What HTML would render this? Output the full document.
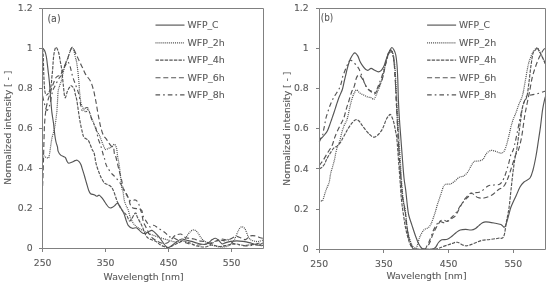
<!DOCTYPE html>
<html><head><meta charset="utf-8"><style>
html,body{margin:0;padding:0;background:#fff;}
svg{display:block;filter:blur(0.3px);}
text{font-family:"DejaVu Sans","Liberation Sans",sans-serif;font-size:9.3px;fill:#595959;stroke:#595959;stroke-width:0.1px;}
</style></head><body>
<svg width="550" height="285" viewBox="0 0 550 285">
<rect width="550" height="285" fill="#fff"/>
<clipPath id="ca"><rect x="42.1" y="7.699999999999999" width="221.50000000000003" height="241.5"/></clipPath>
<g clip-path="url(#ca)">
<path d="M42.60,96.00 C42.92,97.33 43.85,101.67 44.50,104.00 C45.15,106.33 45.90,109.12 46.50,110.00 C47.10,110.88 47.52,110.30 48.10,109.30 C48.68,108.30 49.43,106.22 50.00,104.00 C50.57,101.78 51.00,98.33 51.50,96.00 C52.00,93.67 52.42,91.67 53.00,90.00 C53.58,88.33 54.33,87.33 55.00,86.00 C55.67,84.67 56.30,83.33 57.00,82.00 C57.70,80.67 58.42,79.20 59.20,78.00 C59.98,76.80 60.90,76.47 61.70,74.80 C62.50,73.13 63.22,69.85 64.00,68.00 C64.78,66.15 65.73,64.70 66.40,63.70 C67.07,62.70 67.40,61.62 68.00,62.00 C68.60,62.38 69.25,63.67 70.00,66.00 C70.75,68.33 71.50,72.67 72.50,76.00 C73.50,79.33 74.92,82.83 76.00,86.00 C77.08,89.17 78.03,90.98 79.00,95.00 C79.97,99.02 80.73,107.93 81.80,110.10 C82.87,112.27 84.37,108.35 85.40,108.00 C86.43,107.65 87.22,106.95 88.00,108.00 C88.78,109.05 89.42,112.23 90.10,114.30 C90.78,116.37 91.42,118.72 92.10,120.40 C92.78,122.08 93.60,123.22 94.20,124.40 C94.80,125.58 95.20,125.88 95.70,127.50 C96.20,129.12 96.77,132.15 97.20,134.10 C97.63,136.05 97.78,137.50 98.30,139.20 C98.82,140.90 99.72,142.60 100.30,144.30 C100.88,146.00 101.30,147.62 101.80,149.40 C102.30,151.18 102.87,153.57 103.30,155.00 C103.73,156.43 103.97,156.48 104.40,158.00 C104.83,159.52 105.32,162.40 105.90,164.10 C106.48,165.80 106.97,166.67 107.90,168.20 C108.83,169.73 110.22,171.77 111.50,173.30 C112.78,174.83 114.07,175.62 115.60,177.40 C117.13,179.18 119.18,181.72 120.70,184.00 C122.22,186.28 123.52,188.90 124.70,191.10 C125.88,193.30 126.72,195.50 127.80,197.20 C128.88,198.90 130.03,200.87 131.20,201.30 C132.37,201.73 133.78,199.80 134.80,199.80 C135.82,199.80 136.62,200.53 137.30,201.30 C137.98,202.07 138.38,203.03 138.90,204.40 C139.42,205.77 139.72,207.57 140.40,209.50 C141.08,211.43 141.73,213.58 143.00,216.00 C144.27,218.42 146.73,222.12 148.00,224.00 C149.27,225.88 149.67,227.08 150.60,227.30 C151.53,227.52 152.42,225.22 153.60,225.30 C154.78,225.38 156.33,226.95 157.70,227.80 C159.07,228.65 160.43,229.47 161.80,230.40 C163.17,231.33 164.72,232.38 165.90,233.40 C167.08,234.42 167.72,235.82 168.90,236.50 C170.08,237.18 171.48,236.92 173.00,237.50 C174.52,238.08 176.17,239.25 178.00,240.00 C179.83,240.75 182.00,241.33 184.00,242.00 C186.00,242.67 187.83,243.50 190.00,244.00 C192.17,244.50 194.50,245.00 197.00,245.00 C199.50,245.00 202.87,244.18 205.00,244.00 C207.13,243.82 207.97,244.33 209.80,243.90 C211.63,243.47 214.30,242.05 216.00,241.40 C217.70,240.75 218.57,240.10 220.00,240.00 C221.43,239.90 223.43,240.97 224.60,240.80 C225.77,240.63 225.77,238.63 227.00,239.00 C228.23,239.37 229.83,242.00 232.00,243.00 C234.17,244.00 237.33,244.50 240.00,245.00 C242.67,245.50 245.33,246.17 248.00,246.00 C250.67,245.83 253.50,244.67 256.00,244.00 C258.50,243.33 261.83,242.33 263.00,242.00" fill="none" stroke="#555555" stroke-width="1.15" stroke-dasharray="4.6 3 1.7 3" stroke-linejoin="round"/>
<path d="M42.60,186.00 C42.70,183.33 43.03,175.17 43.20,170.00 C43.37,164.83 43.47,160.00 43.60,155.00 C43.73,150.00 43.85,145.00 44.00,140.00 C44.15,135.00 44.25,129.50 44.50,125.00 C44.75,120.50 45.18,116.05 45.50,113.00 C45.82,109.95 45.93,109.03 46.40,106.70 C46.87,104.37 47.65,101.28 48.30,99.00 C48.95,96.72 49.68,95.00 50.30,93.00 C50.92,91.00 51.42,88.75 52.00,87.00 C52.58,85.25 53.13,84.08 53.80,82.50 C54.47,80.92 55.30,78.58 56.00,77.50 C56.70,76.42 57.30,76.37 58.00,76.00 C58.70,75.63 59.53,75.97 60.20,75.30 C60.87,74.63 61.48,73.05 62.00,72.00 C62.52,70.95 62.67,70.50 63.30,69.00 C63.93,67.50 65.03,64.83 65.80,63.00 C66.57,61.17 67.10,60.17 67.90,58.00 C68.70,55.83 69.82,51.75 70.60,50.00 C71.38,48.25 71.70,46.83 72.60,47.50 C73.50,48.17 74.83,51.62 76.00,54.00 C77.17,56.38 78.50,59.50 79.60,61.80 C80.70,64.10 81.60,65.70 82.60,67.80 C83.60,69.90 84.30,72.20 85.60,74.40 C86.90,76.60 89.10,78.47 90.40,81.00 C91.70,83.53 92.60,86.77 93.40,89.60 C94.20,92.43 94.73,95.77 95.20,98.00 C95.67,100.23 95.78,100.63 96.20,103.00 C96.62,105.37 97.18,109.30 97.70,112.20 C98.22,115.10 98.78,117.85 99.30,120.40 C99.82,122.95 100.13,125.05 100.80,127.50 C101.47,129.95 102.37,133.15 103.30,135.10 C104.23,137.05 105.55,138.00 106.40,139.20 C107.25,140.40 107.55,141.12 108.40,142.30 C109.25,143.48 110.65,145.47 111.50,146.30 C112.35,147.13 113.00,145.93 113.50,147.30 C114.00,148.67 114.15,153.05 114.50,154.50 C114.85,155.95 115.08,154.40 115.60,156.00 C116.12,157.60 116.93,161.38 117.60,164.10 C118.27,166.82 118.92,169.58 119.60,172.30 C120.28,175.02 121.12,177.77 121.70,180.40 C122.28,183.03 122.53,186.15 123.10,188.10 C123.67,190.05 124.42,190.92 125.10,192.10 C125.78,193.28 126.52,193.83 127.20,195.20 C127.88,196.57 128.70,198.77 129.20,200.30 C129.70,201.83 129.57,203.12 130.20,204.40 C130.83,205.68 131.13,207.07 133.00,208.00 C134.87,208.93 139.83,208.48 141.40,210.00 C142.97,211.52 142.05,215.07 142.40,217.10 C142.75,219.13 142.98,220.67 143.50,222.20 C144.02,223.73 144.83,224.93 145.50,226.30 C146.17,227.67 146.78,228.95 147.50,230.40 C148.22,231.85 148.88,233.65 149.80,235.00 C150.72,236.35 151.97,237.58 153.00,238.50 C154.03,239.42 154.88,239.83 156.00,240.50 C157.12,241.17 158.53,242.00 159.70,242.50 C160.87,243.00 161.78,243.42 163.00,243.50 C164.22,243.58 165.72,243.58 167.00,243.00 C168.28,242.42 169.47,241.17 170.70,240.00 C171.93,238.83 173.37,236.88 174.40,236.00 C175.43,235.12 175.88,235.03 176.90,234.70 C177.92,234.37 179.48,233.90 180.50,234.00 C181.52,234.10 182.17,234.68 183.00,235.30 C183.83,235.92 184.48,237.20 185.50,237.70 C186.52,238.20 187.68,238.08 189.10,238.30 C190.52,238.52 192.35,238.58 194.00,239.00 C195.65,239.42 197.35,240.40 199.00,240.80 C200.65,241.20 202.07,241.03 203.90,241.40 C205.73,241.77 207.98,243.07 210.00,243.00 C212.02,242.93 214.00,241.67 216.00,241.00 C218.00,240.33 220.00,239.17 222.00,239.00 C224.00,238.83 225.73,240.42 228.00,240.00 C230.27,239.58 233.52,236.88 235.60,236.50 C237.68,236.12 238.85,237.18 240.50,237.70 C242.15,238.22 243.85,239.90 245.50,239.60 C247.15,239.30 248.77,236.52 250.40,235.90 C252.03,235.28 253.67,235.60 255.30,235.90 C256.93,236.20 258.92,237.30 260.20,237.70 C261.48,238.10 262.53,238.20 263.00,238.30" fill="none" stroke="#555555" stroke-width="1.15" stroke-dasharray="5 2.8" stroke-linejoin="round"/>
<path d="M42.60,49.00 C42.70,50.00 43.05,52.33 43.20,55.00 C43.35,57.67 43.40,61.67 43.50,65.00 C43.60,68.33 43.67,71.67 43.80,75.00 C43.93,78.33 44.10,82.17 44.30,85.00 C44.50,87.83 44.63,90.33 45.00,92.00 C45.37,93.67 45.92,94.83 46.50,95.00 C47.08,95.17 47.87,94.00 48.50,93.00 C49.13,92.00 49.83,90.50 50.30,89.00 C50.77,87.50 51.05,85.83 51.30,84.00 C51.55,82.17 51.58,80.33 51.80,78.00 C52.02,75.67 52.27,73.83 52.60,70.00 C52.93,66.17 53.25,58.78 53.80,55.00 C54.35,51.22 55.10,47.72 55.90,47.30 C56.70,46.88 57.88,50.22 58.60,52.50 C59.32,54.78 59.68,58.18 60.20,61.00 C60.72,63.82 61.18,65.40 61.70,69.40 C62.22,73.40 62.75,80.28 63.30,85.00 C63.85,89.72 64.30,96.70 65.00,97.70 C65.70,98.70 66.67,92.83 67.50,91.00 C68.33,89.17 69.30,87.55 70.00,86.70 C70.70,85.85 71.00,85.47 71.70,85.90 C72.40,86.33 73.57,87.75 74.20,89.30 C74.83,90.85 75.07,93.38 75.50,95.20 C75.93,97.02 76.32,97.57 76.80,100.20 C77.28,102.83 77.85,107.38 78.40,111.00 C78.95,114.62 79.40,118.18 80.10,121.90 C80.80,125.62 81.95,130.75 82.60,133.30 C83.25,135.85 83.08,136.05 84.00,137.20 C84.92,138.35 87.08,139.02 88.10,140.20 C89.12,141.38 89.43,142.77 90.10,144.30 C90.77,145.83 91.42,147.87 92.10,149.40 C92.78,150.93 93.52,151.05 94.20,153.50 C94.88,155.95 95.35,160.80 96.20,164.10 C97.05,167.40 98.37,170.83 99.30,173.30 C100.23,175.77 100.95,177.28 101.80,178.90 C102.65,180.52 103.47,182.07 104.40,183.00 C105.33,183.93 106.22,183.82 107.40,184.50 C108.58,185.18 110.40,185.83 111.50,187.10 C112.60,188.37 113.23,190.23 114.00,192.10 C114.77,193.97 115.50,196.60 116.10,198.30 C116.70,200.00 116.83,200.62 117.60,202.30 C118.37,203.98 119.77,206.87 120.70,208.40 C121.63,209.93 122.15,210.23 123.20,211.50 C124.25,212.77 125.87,214.42 127.00,216.00 C128.13,217.58 128.62,221.48 130.00,221.00 C131.38,220.52 134.08,213.75 135.30,213.10 C136.52,212.45 136.18,214.95 137.30,217.10 C138.42,219.25 140.53,222.87 142.00,226.00 C143.47,229.13 144.80,233.73 146.10,235.90 C147.40,238.07 148.15,238.08 149.80,239.00 C151.45,239.92 154.35,240.48 156.00,241.40 C157.65,242.32 158.37,243.65 159.70,244.50 C161.03,245.35 162.62,246.00 164.00,246.50 C165.38,247.00 166.67,247.58 168.00,247.50 C169.33,247.42 170.33,246.75 172.00,246.00 C173.67,245.25 176.00,243.83 178.00,243.00 C180.00,242.17 182.00,241.00 184.00,241.00 C186.00,241.00 187.83,242.17 190.00,243.00 C192.17,243.83 194.50,245.33 197.00,246.00 C199.50,246.67 202.50,247.17 205.00,247.00 C207.50,246.83 209.50,245.08 212.00,245.00 C214.50,244.92 217.33,246.50 220.00,246.50 C222.67,246.50 225.33,245.42 228.00,245.00 C230.67,244.58 233.33,243.92 236.00,244.00 C238.67,244.08 241.33,245.42 244.00,245.50 C246.67,245.58 249.67,244.58 252.00,244.50 C254.33,244.42 256.17,245.25 258.00,245.00 C259.83,244.75 262.17,243.33 263.00,243.00" fill="none" stroke="#555555" stroke-width="1.15" stroke-dasharray="3.4 1.2" stroke-linejoin="round"/>
<path d="M42.60,154.00 C42.95,154.47 44.07,156.25 44.70,156.80 C45.33,157.35 45.77,157.08 46.40,157.30 C47.03,157.52 48.00,158.53 48.50,158.10 C49.00,157.67 49.05,156.60 49.40,154.70 C49.75,152.80 50.18,149.43 50.60,146.70 C51.02,143.97 51.33,140.97 51.90,138.30 C52.47,135.63 53.43,133.08 54.00,130.70 C54.57,128.32 54.83,127.12 55.30,124.00 C55.77,120.88 56.45,115.40 56.80,112.00 C57.15,108.60 57.17,107.10 57.40,103.60 C57.63,100.10 57.78,94.10 58.20,91.00 C58.62,87.90 59.33,86.83 59.90,85.00 C60.47,83.17 61.03,82.17 61.60,80.00 C62.17,77.83 62.60,74.83 63.30,72.00 C64.00,69.17 65.03,65.33 65.80,63.00 C66.57,60.67 67.10,60.17 67.90,58.00 C68.70,55.83 69.85,51.77 70.60,50.00 C71.35,48.23 71.83,47.23 72.40,47.40 C72.97,47.57 73.50,49.30 74.00,51.00 C74.50,52.70 75.02,56.02 75.40,57.60 C75.78,59.18 75.93,58.60 76.30,60.50 C76.67,62.40 77.17,65.42 77.60,69.00 C78.03,72.58 78.57,78.17 78.90,82.00 C79.23,85.83 79.25,88.50 79.60,92.00 C79.95,95.50 80.30,100.07 81.00,103.00 C81.70,105.93 82.97,108.10 83.80,109.60 C84.63,111.10 85.28,112.07 86.00,112.00 C86.72,111.93 87.33,108.65 88.10,109.20 C88.87,109.75 89.62,112.83 90.60,115.30 C91.58,117.77 93.07,121.55 94.00,124.00 C94.93,126.45 95.32,128.15 96.20,130.00 C97.08,131.85 98.45,133.40 99.30,135.10 C100.15,136.80 100.63,138.50 101.30,140.20 C101.97,141.90 102.62,143.77 103.30,145.30 C103.98,146.83 104.72,148.80 105.40,149.40 C106.08,150.00 106.72,149.15 107.40,148.90 C108.08,148.65 108.73,148.25 109.50,147.90 C110.27,147.55 111.17,147.40 112.00,146.80 C112.83,146.20 113.73,144.03 114.50,144.30 C115.27,144.57 116.08,146.45 116.60,148.40 C117.12,150.35 117.10,152.73 117.60,156.00 C118.10,159.27 118.92,162.83 119.60,168.00 C120.28,173.17 121.12,182.98 121.70,187.00 C122.28,191.02 122.70,190.05 123.10,192.10 C123.50,194.15 123.68,197.25 124.10,199.30 C124.52,201.35 124.92,202.62 125.60,204.40 C126.28,206.18 127.43,207.88 128.20,210.00 C128.97,212.12 129.35,214.90 130.20,217.10 C131.05,219.30 132.28,221.67 133.30,223.20 C134.32,224.73 134.85,225.17 136.30,226.30 C137.75,227.43 139.72,228.72 142.00,230.00 C144.28,231.28 147.33,232.83 150.00,234.00 C152.67,235.17 155.00,236.00 158.00,237.00 C161.00,238.00 165.00,239.17 168.00,240.00 C171.00,240.83 173.83,241.83 176.00,242.00 C178.17,242.17 179.50,241.58 181.00,241.00 C182.50,240.42 183.83,239.58 185.00,238.50 C186.17,237.42 187.08,235.67 188.00,234.50 C188.92,233.33 189.67,232.25 190.50,231.50 C191.33,230.75 192.17,230.17 193.00,230.00 C193.83,229.83 194.67,230.00 195.50,230.50 C196.33,231.00 197.17,231.92 198.00,233.00 C198.83,234.08 199.67,235.83 200.50,237.00 C201.33,238.17 202.08,239.17 203.00,240.00 C203.92,240.83 204.50,241.17 206.00,242.00 C207.50,242.83 209.67,244.17 212.00,245.00 C214.33,245.83 217.33,246.83 220.00,247.00 C222.67,247.17 225.80,246.93 228.00,246.00 C230.20,245.07 231.93,242.88 233.20,241.40 C234.47,239.92 234.78,238.83 235.60,237.10 C236.42,235.37 237.37,232.52 238.10,231.00 C238.83,229.48 239.38,228.72 240.00,228.00 C240.62,227.28 241.20,226.78 241.80,226.70 C242.40,226.62 242.98,227.00 243.60,227.50 C244.22,228.00 244.78,228.30 245.50,229.70 C246.22,231.10 247.08,234.25 247.90,235.90 C248.72,237.55 249.38,238.75 250.40,239.60 C251.42,240.45 252.73,240.68 254.00,241.00 C255.27,241.32 256.50,241.67 258.00,241.50 C259.50,241.33 262.17,240.25 263.00,240.00" fill="none" stroke="#505050" stroke-width="1.2" stroke-dasharray="1.0 0.95" stroke-linejoin="round"/>
<path d="M42.60,48.00 C42.97,48.50 44.17,49.50 44.80,51.00 C45.43,52.50 45.85,53.73 46.40,57.00 C46.95,60.27 47.60,66.43 48.10,70.60 C48.60,74.77 49.02,77.93 49.40,82.00 C49.78,86.07 50.10,91.17 50.40,95.00 C50.70,98.83 50.95,102.07 51.20,105.00 C51.45,107.93 51.50,109.43 51.90,112.60 C52.30,115.77 53.12,120.27 53.60,124.00 C54.08,127.73 54.40,132.00 54.80,135.00 C55.20,138.00 55.57,140.05 56.00,142.00 C56.43,143.95 57.03,145.13 57.40,146.70 C57.77,148.27 57.65,149.98 58.20,151.40 C58.75,152.82 59.85,154.37 60.70,155.20 C61.55,156.03 62.52,155.98 63.30,156.40 C64.08,156.82 64.77,156.85 65.40,157.70 C66.03,158.55 66.55,160.58 67.10,161.50 C67.65,162.42 67.93,163.07 68.70,163.20 C69.47,163.33 70.63,162.73 71.70,162.30 C72.77,161.87 74.18,160.95 75.10,160.60 C76.02,160.25 76.50,159.98 77.20,160.20 C77.90,160.42 78.67,161.13 79.30,161.90 C79.93,162.67 80.45,163.47 81.00,164.80 C81.55,166.13 82.02,168.03 82.60,169.90 C83.18,171.77 83.85,173.82 84.50,176.00 C85.15,178.18 85.82,180.65 86.50,183.00 C87.18,185.35 87.92,188.32 88.60,190.10 C89.28,191.88 89.67,192.93 90.60,193.70 C91.53,194.47 93.18,194.28 94.20,194.70 C95.22,195.12 95.85,196.12 96.70,196.20 C97.55,196.28 98.45,194.95 99.30,195.20 C100.15,195.45 100.95,196.68 101.80,197.70 C102.65,198.72 103.63,200.18 104.40,201.30 C105.17,202.42 105.65,203.38 106.40,204.40 C107.15,205.42 108.13,206.82 108.90,207.40 C109.67,207.98 110.07,208.15 111.00,207.90 C111.93,207.65 113.48,206.67 114.50,205.90 C115.52,205.13 116.42,203.55 117.10,203.30 C117.78,203.05 117.83,203.37 118.60,204.40 C119.37,205.43 120.78,207.88 121.70,209.50 C122.62,211.12 123.37,212.32 124.10,214.10 C124.83,215.88 125.42,218.33 126.10,220.20 C126.78,222.07 127.17,223.95 128.20,225.30 C129.23,226.65 130.95,227.88 132.30,228.30 C133.65,228.72 135.12,227.45 136.30,227.80 C137.48,228.15 138.38,229.55 139.40,230.40 C140.42,231.25 141.38,232.40 142.40,232.90 C143.42,233.40 144.48,233.57 145.50,233.40 C146.52,233.23 147.48,232.40 148.50,231.90 C149.52,231.40 150.75,230.48 151.60,230.40 C152.45,230.32 152.75,230.73 153.60,231.40 C154.45,232.07 155.67,233.30 156.70,234.40 C157.73,235.50 158.75,236.65 159.80,238.00 C160.85,239.35 161.97,241.08 163.00,242.50 C164.03,243.92 165.12,245.65 166.00,246.50 C166.88,247.35 167.30,247.77 168.30,247.60 C169.30,247.43 170.55,246.53 172.00,245.50 C173.45,244.47 175.37,242.48 177.00,241.40 C178.63,240.32 180.18,239.20 181.80,239.00 C183.42,238.80 185.07,239.80 186.70,240.20 C188.33,240.60 189.77,240.88 191.60,241.40 C193.43,241.92 195.48,242.78 197.70,243.30 C199.92,243.82 203.08,244.62 204.90,244.50 C206.72,244.38 207.37,243.42 208.60,242.60 C209.83,241.78 211.17,240.32 212.30,239.60 C213.43,238.88 214.38,238.20 215.40,238.30 C216.42,238.40 217.28,239.27 218.40,240.20 C219.52,241.13 220.87,243.50 222.10,243.90 C223.33,244.30 224.37,243.02 225.80,242.60 C227.23,242.18 228.85,241.70 230.70,241.40 C232.55,241.10 234.85,240.80 236.90,240.80 C238.95,240.80 240.97,241.10 243.00,241.40 C245.03,241.70 247.05,242.08 249.10,242.60 C251.15,243.12 253.25,243.98 255.30,244.50 C257.35,245.02 260.12,245.62 261.40,245.70 C262.68,245.78 262.73,245.12 263.00,245.00" fill="none" stroke="#555555" stroke-width="1.15" stroke-linejoin="round"/>
</g>
<path d="M42.5,8.5 H263.5 V248.5 M42.5,8.5 V248.5 H263.5" fill="none" stroke="#808080" stroke-width="1"/>
<path d="M39.0,248.5 H42.5" stroke="#808080" stroke-width="1"/>
<path d="M39.0,208.5 H42.5" stroke="#808080" stroke-width="1"/>
<path d="M39.0,168.5 H42.5" stroke="#808080" stroke-width="1"/>
<path d="M39.0,128.5 H42.5" stroke="#808080" stroke-width="1"/>
<path d="M39.0,88.5 H42.5" stroke="#808080" stroke-width="1"/>
<path d="M39.0,48.5 H42.5" stroke="#808080" stroke-width="1"/>
<path d="M39.0,8.5 H42.5" stroke="#808080" stroke-width="1"/>
<path d="M42.5,248.5 V252.0" stroke="#808080" stroke-width="1"/>
<path d="M105.5,248.5 V252.0" stroke="#808080" stroke-width="1"/>
<path d="M168.5,248.5 V252.0" stroke="#808080" stroke-width="1"/>
<path d="M231.5,248.5 V252.0" stroke="#808080" stroke-width="1"/>
<text x="32.6" y="250.90" text-anchor="end">0</text>
<text x="32.6" y="210.90" text-anchor="end">0.2</text>
<text x="32.6" y="170.90" text-anchor="end">0.4</text>
<text x="32.6" y="130.90" text-anchor="end">0.6</text>
<text x="32.6" y="90.90" text-anchor="end">0.8</text>
<text x="32.6" y="50.90" text-anchor="end">1</text>
<text x="32.6" y="10.90" text-anchor="end">1.2</text>
<text x="42.60" y="265.9" text-anchor="middle">250</text>
<text x="105.60" y="265.9" text-anchor="middle">350</text>
<text x="168.60" y="265.9" text-anchor="middle">450</text>
<text x="231.60" y="265.9" text-anchor="middle">550</text>
<text x="47.4" y="21.6" text-anchor="start" textLength="13.2" lengthAdjust="spacingAndGlyphs" style="font-size:10.6px">(a)</text>
<text transform="translate(11.2,127.7) rotate(-90)" x="0" y="0" text-anchor="middle" textLength="114" lengthAdjust="spacingAndGlyphs">Normalized intensity [ - ]</text>
<text x="103.6" y="279.6" text-anchor="start" textLength="80" lengthAdjust="spacingAndGlyphs">Wavelength [nm]</text>
<path d="M155.5,25.1 H184.5" stroke="#555555" stroke-width="1.15"/>
<text x="187.5" y="28.4" text-anchor="start" textLength="31" lengthAdjust="spacingAndGlyphs">WFP_C</text>
<path d="M155.5,42.9 H184.5" stroke="#505050" stroke-width="1.2" stroke-dasharray="1.0 0.95"/>
<text x="187.5" y="46.2" text-anchor="start" textLength="37.3" lengthAdjust="spacingAndGlyphs">WFP_2h</text>
<path d="M155.5,60.1 H184.5" stroke="#555555" stroke-width="1.15" stroke-dasharray="3.4 1.2"/>
<text x="187.5" y="63.4" text-anchor="start" textLength="37.3" lengthAdjust="spacingAndGlyphs">WFP_4h</text>
<path d="M155.5,77.7 H184.5" stroke="#555555" stroke-width="1.15" stroke-dasharray="5 2.8"/>
<text x="187.5" y="81.0" text-anchor="start" textLength="37.3" lengthAdjust="spacingAndGlyphs">WFP_6h</text>
<path d="M155.5,94.9 H184.5" stroke="#555555" stroke-width="1.15" stroke-dasharray="4.6 3 1.7 3"/>
<text x="187.5" y="98.2" text-anchor="start" textLength="37.3" lengthAdjust="spacingAndGlyphs">WFP_8h</text>
<clipPath id="cb"><rect x="318.7" y="7.699999999999999" width="227.50000000000006" height="242.5"/></clipPath>
<g clip-path="url(#cb)">
<path d="M319.20,142.00 C319.50,141.42 320.43,139.58 321.00,138.50 C321.57,137.42 322.20,136.75 322.60,135.50 C323.00,134.25 323.03,132.85 323.40,131.00 C323.77,129.15 324.42,126.40 324.80,124.40 C325.18,122.40 325.22,121.00 325.70,119.00 C326.18,117.00 327.03,114.52 327.70,112.40 C328.37,110.28 328.93,108.33 329.70,106.30 C330.47,104.27 331.45,101.98 332.30,100.20 C333.15,98.42 333.87,97.13 334.80,95.60 C335.73,94.07 337.03,92.43 337.90,91.00 C338.77,89.57 339.40,88.50 340.00,87.00 C340.60,85.50 341.07,83.67 341.50,82.00 C341.93,80.33 342.07,78.78 342.60,77.00 C343.13,75.22 343.93,73.27 344.70,71.30 C345.47,69.33 346.45,66.88 347.20,65.20 C347.95,63.52 348.57,62.02 349.20,61.20 C349.83,60.38 350.32,60.13 351.00,60.30 C351.68,60.47 352.40,61.38 353.30,62.20 C354.20,63.02 355.47,64.10 356.40,65.20 C357.33,66.30 358.15,67.43 358.90,68.80 C359.65,70.17 360.30,71.95 360.90,73.40 C361.50,74.85 361.73,75.47 362.50,77.50 C363.27,79.53 364.48,83.57 365.50,85.60 C366.52,87.63 367.58,88.77 368.60,89.70 C369.62,90.63 370.75,90.65 371.60,91.20 C372.45,91.75 372.93,93.03 373.70,93.00 C374.47,92.97 375.32,92.50 376.20,91.00 C377.08,89.50 378.03,86.50 379.00,84.00 C379.97,81.50 381.00,79.00 382.00,76.00 C383.00,73.00 383.90,69.67 385.00,66.00 C386.10,62.33 387.77,56.33 388.60,54.00 C389.43,51.67 389.52,52.25 390.00,52.00 C390.48,51.75 391.00,51.83 391.50,52.50 C392.00,53.17 392.53,53.92 393.00,56.00 C393.47,58.08 393.92,61.00 394.30,65.00 C394.68,69.00 394.98,74.17 395.30,80.00 C395.62,85.83 395.88,93.33 396.20,100.00 C396.52,106.67 396.85,113.33 397.20,120.00 C397.55,126.67 397.92,133.33 398.30,140.00 C398.68,146.67 399.05,153.33 399.50,160.00 C399.95,166.67 400.48,173.67 401.00,180.00 C401.52,186.33 401.93,192.67 402.60,198.00 C403.27,203.33 404.27,207.00 405.00,212.00 C405.73,217.00 406.25,223.33 407.00,228.00 C407.75,232.67 408.67,236.92 409.50,240.00 C410.33,243.08 411.17,245.00 412.00,246.50 C412.83,248.00 413.50,248.55 414.50,249.00 C415.50,249.45 416.75,249.17 418.00,249.20 C419.25,249.23 420.73,249.40 422.00,249.20 C423.27,249.00 424.30,249.53 425.60,248.00 C426.90,246.47 428.55,242.83 429.80,240.00 C431.05,237.17 432.00,233.50 433.10,231.00 C434.20,228.50 435.37,226.62 436.40,225.00 C437.43,223.38 437.90,221.68 439.30,221.30 C440.70,220.92 442.98,223.15 444.80,222.70 C446.62,222.25 448.38,220.20 450.20,218.60 C452.02,217.00 453.92,215.37 455.70,213.10 C457.48,210.83 459.22,207.32 460.90,205.00 C462.58,202.68 464.62,200.53 465.80,199.20 C466.98,197.87 466.97,198.03 468.00,197.00 C469.03,195.97 470.00,193.83 472.00,193.00 C474.00,192.17 477.33,193.17 480.00,192.00 C482.67,190.83 485.67,187.17 488.00,186.00 C490.33,184.83 492.00,185.33 494.00,185.00 C496.00,184.67 498.33,185.17 500.00,184.00 C501.67,182.83 502.67,181.00 504.00,178.00 C505.33,175.00 506.83,170.00 508.00,166.00 C509.17,162.00 510.13,156.67 511.00,154.00 C511.87,151.33 512.32,152.82 513.20,150.00 C514.08,147.18 515.08,142.77 516.30,137.10 C517.52,131.43 519.27,121.62 520.50,116.00 C521.73,110.38 522.65,106.73 523.70,103.40 C524.75,100.07 525.58,97.40 526.80,96.00 C528.02,94.60 529.42,95.33 531.00,95.00 C532.58,94.67 534.37,94.50 536.30,94.00 C538.23,93.50 541.03,92.50 542.60,92.00 C544.17,91.50 545.18,91.17 545.70,91.00" fill="none" stroke="#555555" stroke-width="1.15" stroke-dasharray="4.6 3 1.7 3" stroke-linejoin="round"/>
<path d="M319.20,165.50 C319.53,165.08 320.50,163.93 321.20,163.00 C321.90,162.07 322.30,161.65 323.40,159.90 C324.50,158.15 326.33,154.95 327.80,152.50 C329.27,150.05 331.10,147.55 332.20,145.20 C333.30,142.85 333.53,140.77 334.40,138.40 C335.27,136.03 336.17,133.70 337.40,131.00 C338.63,128.30 340.70,124.45 341.80,122.20 C342.90,119.95 343.22,119.82 344.00,117.50 C344.78,115.18 345.65,111.18 346.50,108.30 C347.35,105.42 348.25,102.92 349.10,100.20 C349.95,97.48 350.73,94.35 351.60,92.00 C352.47,89.65 353.50,88.43 354.30,86.10 C355.10,83.77 355.70,79.85 356.40,78.00 C357.10,76.15 357.82,75.33 358.50,75.00 C359.18,74.67 359.75,75.17 360.50,76.00 C361.25,76.83 362.08,78.33 363.00,80.00 C363.92,81.67 365.00,84.33 366.00,86.00 C367.00,87.67 368.00,88.92 369.00,90.00 C370.00,91.08 371.08,91.83 372.00,92.50 C372.92,93.17 373.72,94.22 374.50,94.00 C375.28,93.78 375.98,92.33 376.70,91.20 C377.42,90.07 378.12,88.72 378.80,87.20 C379.48,85.68 380.22,83.47 380.80,82.10 C381.38,80.73 381.77,80.68 382.30,79.00 C382.83,77.32 383.38,74.83 384.00,72.00 C384.62,69.17 385.33,65.00 386.00,62.00 C386.67,59.00 387.42,55.83 388.00,54.00 C388.58,52.17 389.00,51.58 389.50,51.00 C390.00,50.42 390.50,50.17 391.00,50.50 C391.50,50.83 392.03,51.42 392.50,53.00 C392.97,54.58 393.38,56.33 393.80,60.00 C394.22,63.67 394.63,69.17 395.00,75.00 C395.37,80.83 395.67,88.33 396.00,95.00 C396.33,101.67 396.67,108.33 397.00,115.00 C397.33,121.67 397.58,127.50 398.00,135.00 C398.42,142.50 399.00,152.50 399.50,160.00 C400.00,167.50 400.47,173.67 401.00,180.00 C401.53,186.33 402.03,193.00 402.70,198.00 C403.37,203.00 404.28,205.07 405.00,210.00 C405.72,214.93 406.27,222.55 407.00,227.60 C407.73,232.65 408.58,237.13 409.40,240.30 C410.22,243.47 411.07,245.18 411.90,246.60 C412.73,248.02 413.38,248.37 414.40,248.80 C415.42,249.23 416.40,249.13 418.00,249.20 C419.60,249.27 422.50,249.57 424.00,249.20 C425.50,248.83 426.03,248.12 427.00,247.00 C427.97,245.88 428.78,244.70 429.80,242.50 C430.82,240.30 432.00,236.33 433.10,233.80 C434.20,231.27 435.50,228.93 436.40,227.30 C437.30,225.67 437.78,225.10 438.50,224.00 C439.22,222.90 439.78,221.33 440.70,220.70 C441.62,220.07 442.90,220.10 444.00,220.20 C445.10,220.30 446.03,221.58 447.30,221.30 C448.57,221.02 450.33,219.32 451.60,218.50 C452.87,217.68 453.98,217.32 454.90,216.40 C455.82,215.48 456.20,214.60 457.10,213.00 C458.00,211.40 459.03,209.10 460.30,206.80 C461.57,204.50 463.23,201.28 464.70,199.20 C466.17,197.12 468.00,195.30 469.10,194.30 C470.20,193.30 470.40,193.12 471.30,193.20 C472.20,193.28 473.42,194.08 474.50,194.80 C475.58,195.52 476.22,196.97 477.80,197.50 C479.38,198.03 481.63,198.42 484.00,198.00 C486.37,197.58 489.67,196.33 492.00,195.00 C494.33,193.67 496.00,191.50 498.00,190.00 C500.00,188.50 502.33,188.00 504.00,186.00 C505.67,184.00 506.67,181.33 508.00,178.00 C509.33,174.67 510.67,170.00 512.00,166.00 C513.33,162.00 514.93,156.67 516.00,154.00 C517.07,151.33 517.47,152.82 518.40,150.00 C519.33,147.18 520.55,142.77 521.60,137.10 C522.65,131.43 523.80,121.52 524.70,116.00 C525.60,110.48 526.20,108.00 527.00,104.00 C527.80,100.00 528.65,96.33 529.50,92.00 C530.35,87.67 531.13,82.10 532.10,78.00 C533.07,73.90 534.07,70.93 535.30,67.40 C536.53,63.87 538.10,59.78 539.50,56.80 C540.90,53.82 542.67,50.88 543.70,49.50 C544.73,48.12 545.37,48.67 545.70,48.50" fill="none" stroke="#555555" stroke-width="1.15" stroke-dasharray="5 2.8" stroke-linejoin="round"/>
<path d="M319.20,168.80 C319.65,168.57 320.97,168.25 321.90,167.40 C322.83,166.55 324.07,164.93 324.80,163.70 C325.53,162.47 325.55,161.50 326.30,160.00 C327.05,158.50 328.07,156.68 329.30,154.70 C330.53,152.72 332.35,149.57 333.70,148.10 C335.05,146.63 336.17,147.00 337.40,145.90 C338.63,144.80 340.30,142.62 341.10,141.50 C341.90,140.38 341.47,140.57 342.20,139.20 C342.93,137.83 344.47,135.15 345.50,133.30 C346.53,131.45 347.30,129.83 348.40,128.10 C349.50,126.37 350.88,124.30 352.10,122.90 C353.32,121.50 354.55,120.02 355.70,119.70 C356.85,119.38 357.85,119.95 359.00,121.00 C360.15,122.05 360.87,123.80 362.60,126.00 C364.33,128.20 367.35,132.37 369.40,134.20 C371.45,136.03 372.83,137.68 374.90,137.00 C376.97,136.32 379.95,132.93 381.80,130.10 C383.65,127.27 384.87,122.35 386.00,120.00 C387.13,117.65 387.83,116.88 388.60,116.00 C389.37,115.12 389.80,113.87 390.60,114.70 C391.40,115.53 392.58,118.30 393.40,121.00 C394.22,123.70 394.92,127.85 395.50,130.90 C396.08,133.95 396.40,134.45 396.90,139.30 C397.40,144.15 397.98,153.22 398.50,160.00 C399.02,166.78 399.50,173.33 400.00,180.00 C400.50,186.67 400.92,194.17 401.50,200.00 C402.08,205.83 402.83,210.40 403.50,215.00 C404.17,219.60 404.75,223.77 405.50,227.60 C406.25,231.43 407.17,235.10 408.00,238.00 C408.83,240.90 409.67,243.25 410.50,245.00 C411.33,246.75 412.08,247.80 413.00,248.50 C413.92,249.20 412.25,249.12 416.00,249.20 C419.75,249.28 430.90,249.47 435.50,249.00 C440.10,248.53 440.88,247.30 443.60,246.40 C446.32,245.50 449.52,244.28 451.80,243.60 C454.08,242.92 455.02,241.93 457.30,242.30 C459.58,242.67 462.78,245.58 465.50,245.80 C468.22,246.02 470.88,244.50 473.60,243.60 C476.32,242.70 479.07,241.08 481.80,240.40 C484.53,239.72 487.27,239.87 490.00,239.50 C492.73,239.13 495.93,238.65 498.20,238.20 C500.47,237.75 502.23,239.53 503.60,236.80 C504.97,234.07 505.50,226.60 506.40,221.80 C507.30,217.00 508.23,213.30 509.00,208.00 C509.77,202.70 510.33,196.00 511.00,190.00 C511.67,184.00 512.33,177.33 513.00,172.00 C513.67,166.67 514.33,162.00 515.00,158.00 C515.67,154.00 516.17,153.50 517.00,148.00 C517.83,142.50 519.00,132.17 520.00,125.00 C521.00,117.83 521.87,109.70 523.00,105.00 C524.13,100.30 525.80,100.63 526.80,96.80 C527.80,92.97 528.30,87.25 529.00,82.00 C529.70,76.75 530.30,70.20 531.00,65.30 C531.70,60.40 532.43,55.15 533.20,52.60 C533.97,50.05 534.97,50.80 535.60,50.00 C536.23,49.20 536.40,47.63 537.00,47.80 C537.60,47.97 538.37,49.57 539.20,51.00 C540.03,52.43 540.93,54.13 542.00,56.40 C543.07,58.67 545.00,63.23 545.60,64.60" fill="none" stroke="#555555" stroke-width="1.15" stroke-dasharray="3.4 1.2" stroke-linejoin="round"/>
<path d="M319.20,199.50 C319.72,199.75 321.52,201.45 322.30,201.00 C323.08,200.55 323.37,198.37 323.90,196.80 C324.43,195.23 324.88,193.35 325.50,191.60 C326.12,189.85 326.98,187.88 327.60,186.30 C328.22,184.72 328.68,184.27 329.20,182.10 C329.72,179.93 330.20,175.63 330.70,173.30 C331.20,170.97 331.58,170.32 332.20,168.10 C332.82,165.88 333.78,162.60 334.40,160.00 C335.02,157.40 335.40,154.73 335.90,152.50 C336.40,150.27 336.78,148.43 337.40,146.60 C338.02,144.77 338.87,143.85 339.60,141.50 C340.33,139.15 341.07,135.10 341.80,132.50 C342.53,129.90 343.27,127.73 344.00,125.90 C344.73,124.07 345.60,122.90 346.20,121.50 C346.80,120.10 347.03,119.70 347.60,117.50 C348.17,115.30 348.93,111.18 349.60,108.30 C350.27,105.42 350.83,102.73 351.60,100.20 C352.37,97.67 353.35,94.80 354.20,93.10 C355.05,91.40 355.77,90.00 356.70,90.00 C357.63,90.00 358.60,92.25 359.80,93.10 C361.00,93.95 362.55,94.43 363.90,95.10 C365.25,95.77 366.72,96.68 367.90,97.10 C369.08,97.52 370.03,97.22 371.00,97.60 C371.97,97.98 372.92,99.62 373.70,99.40 C374.48,99.18 375.02,97.67 375.70,96.30 C376.38,94.93 377.12,92.90 377.80,91.20 C378.48,89.50 379.13,87.97 379.80,86.10 C380.47,84.23 381.10,82.52 381.80,80.00 C382.50,77.48 383.30,74.00 384.00,71.00 C384.70,68.00 385.33,64.67 386.00,62.00 C386.67,59.33 387.42,56.83 388.00,55.00 C388.58,53.17 389.00,51.83 389.50,51.00 C390.00,50.17 390.50,49.83 391.00,50.00 C391.50,50.17 392.00,50.67 392.50,52.00 C393.00,53.33 393.58,55.33 394.00,58.00 C394.42,60.67 394.67,63.50 395.00,68.00 C395.33,72.50 395.70,79.67 396.00,85.00 C396.30,90.33 396.47,94.17 396.80,100.00 C397.13,105.83 397.63,113.33 398.00,120.00 C398.37,126.67 398.62,133.33 399.00,140.00 C399.38,146.67 399.88,153.33 400.30,160.00 C400.72,166.67 401.05,173.67 401.50,180.00 C401.95,186.33 402.33,192.67 403.00,198.00 C403.67,203.33 404.75,206.67 405.50,212.00 C406.25,217.33 406.75,225.33 407.50,230.00 C408.25,234.67 409.17,237.33 410.00,240.00 C410.83,242.67 411.67,244.62 412.50,246.00 C413.33,247.38 414.27,248.20 415.00,248.30 C415.73,248.40 416.15,248.37 416.90,246.60 C417.65,244.83 418.65,240.02 419.50,237.70 C420.35,235.38 421.17,234.07 422.00,232.70 C422.83,231.33 423.45,230.35 424.50,229.50 C425.55,228.65 427.20,228.55 428.30,227.60 C429.40,226.65 430.30,225.32 431.10,223.80 C431.90,222.28 432.40,220.47 433.10,218.50 C433.80,216.53 434.58,214.32 435.30,212.00 C436.02,209.68 436.50,207.47 437.40,204.60 C438.30,201.73 439.68,197.82 440.70,194.80 C441.72,191.78 442.62,188.25 443.50,186.50 C444.38,184.75 444.83,184.72 446.00,184.30 C447.17,183.88 449.00,184.55 450.50,184.00 C452.00,183.45 453.53,182.13 455.00,181.00 C456.47,179.87 457.85,178.03 459.30,177.20 C460.75,176.37 462.25,176.93 463.70,176.00 C465.15,175.07 466.78,173.27 468.00,171.60 C469.22,169.93 469.97,167.68 471.00,166.00 C472.03,164.32 472.93,162.33 474.20,161.50 C475.47,160.67 477.13,161.37 478.60,161.00 C480.07,160.63 481.68,160.55 483.00,159.30 C484.32,158.05 485.18,154.97 486.50,153.50 C487.82,152.03 489.30,150.85 490.90,150.50 C492.50,150.15 494.50,150.95 496.10,151.40 C497.70,151.85 499.18,153.20 500.50,153.20 C501.82,153.20 502.97,152.87 504.00,151.40 C505.03,149.93 505.93,146.80 506.70,144.40 C507.47,142.00 507.88,139.97 508.60,137.00 C509.32,134.03 510.27,129.43 511.00,126.60 C511.73,123.77 512.12,122.47 513.00,120.00 C513.88,117.53 515.30,114.47 516.30,111.80 C517.30,109.13 517.95,106.80 519.00,104.00 C520.05,101.20 521.47,99.35 522.60,95.00 C523.73,90.65 524.85,82.97 525.80,77.90 C526.75,72.83 527.43,68.18 528.30,64.60 C529.17,61.02 530.08,58.67 531.00,56.40 C531.92,54.13 532.80,52.43 533.80,51.00 C534.80,49.57 536.10,47.80 537.00,47.80 C537.90,47.80 538.37,49.57 539.20,51.00 C540.03,52.43 540.93,54.40 542.00,56.40 C543.07,58.40 545.00,61.90 545.60,63.00" fill="none" stroke="#505050" stroke-width="1.2" stroke-dasharray="1.0 0.95" stroke-linejoin="round"/>
<path d="M319.20,139.00 C319.65,138.78 320.97,138.45 321.90,137.70 C322.83,136.95 323.90,135.62 324.80,134.50 C325.70,133.38 326.52,132.50 327.30,131.00 C328.08,129.50 328.78,127.42 329.50,125.50 C330.22,123.58 330.85,121.67 331.60,119.50 C332.35,117.33 333.20,114.92 334.00,112.50 C334.80,110.08 335.67,107.25 336.40,105.00 C337.13,102.75 337.73,100.82 338.40,99.00 C339.07,97.18 339.72,95.77 340.40,94.10 C341.08,92.43 341.85,91.18 342.50,89.00 C343.15,86.82 343.68,83.67 344.30,81.00 C344.92,78.33 345.62,75.42 346.20,73.00 C346.78,70.58 347.12,68.82 347.80,66.50 C348.48,64.18 349.38,61.18 350.30,59.10 C351.22,57.02 352.47,55.02 353.30,54.00 C354.13,52.98 354.53,52.65 355.30,53.00 C356.07,53.35 357.13,54.73 357.90,56.10 C358.67,57.47 359.13,59.60 359.90,61.20 C360.67,62.80 361.57,64.35 362.50,65.70 C363.43,67.05 364.57,68.53 365.50,69.30 C366.43,70.07 367.17,70.47 368.10,70.30 C369.03,70.13 370.00,68.30 371.10,68.30 C372.20,68.30 373.50,69.70 374.70,70.30 C375.90,70.90 377.20,71.90 378.30,71.90 C379.40,71.90 380.37,71.23 381.30,70.30 C382.23,69.37 383.13,68.00 383.90,66.30 C384.67,64.60 385.23,61.97 385.90,60.10 C386.57,58.23 387.30,56.62 387.90,55.10 C388.50,53.58 388.85,52.27 389.50,51.00 C390.15,49.73 391.05,47.67 391.80,47.50 C392.55,47.33 393.33,48.75 394.00,50.00 C394.67,51.25 395.30,52.50 395.80,55.00 C396.30,57.50 396.67,60.83 397.00,65.00 C397.33,69.17 397.57,74.17 397.80,80.00 C398.03,85.83 398.12,93.33 398.40,100.00 C398.68,106.67 399.07,113.33 399.50,120.00 C399.93,126.67 400.50,133.33 401.00,140.00 C401.50,146.67 402.00,153.67 402.50,160.00 C403.00,166.33 403.47,173.00 404.00,178.00 C404.53,183.00 405.15,185.50 405.70,190.00 C406.25,194.50 406.80,200.83 407.30,205.00 C407.80,209.17 407.93,211.65 408.70,215.00 C409.47,218.35 410.73,221.52 411.90,225.10 C413.07,228.68 414.55,233.35 415.70,236.50 C416.85,239.65 417.75,242.00 418.80,244.00 C419.85,246.00 421.05,247.63 422.00,248.50 C422.95,249.37 423.50,249.08 424.50,249.20 C425.50,249.32 426.75,249.20 428.00,249.20 C429.25,249.20 430.75,249.48 432.00,249.20 C433.25,248.92 434.42,248.62 435.50,247.50 C436.58,246.38 437.45,243.78 438.50,242.50 C439.55,241.22 440.33,240.33 441.80,239.80 C443.27,239.27 445.67,239.85 447.30,239.30 C448.93,238.75 450.15,237.60 451.60,236.50 C453.05,235.40 454.55,233.78 456.00,232.70 C457.45,231.62 458.67,230.55 460.30,230.00 C461.93,229.45 463.97,229.40 465.80,229.40 C467.63,229.40 469.67,230.17 471.30,230.00 C472.93,229.83 474.33,229.13 475.60,228.40 C476.87,227.67 477.87,226.47 478.90,225.60 C479.93,224.73 480.63,223.83 481.80,223.20 C482.97,222.57 483.63,221.80 485.90,221.80 C488.17,221.80 492.90,222.75 495.40,223.20 C497.90,223.65 499.30,223.92 500.90,224.50 C502.50,225.08 503.63,228.52 505.00,226.70 C506.37,224.88 508.10,216.88 509.10,213.60 C510.10,210.32 509.85,209.93 511.00,207.00 C512.15,204.07 514.50,199.33 516.00,196.00 C517.50,192.67 518.67,189.33 520.00,187.00 C521.33,184.67 522.33,183.50 524.00,182.00 C525.67,180.50 528.50,180.00 530.00,178.00 C531.50,176.00 532.00,173.67 533.00,170.00 C534.00,166.33 535.08,161.00 536.00,156.00 C536.92,151.00 537.75,144.90 538.50,140.00 C539.25,135.10 539.82,131.65 540.50,126.60 C541.18,121.55 541.90,114.27 542.60,109.70 C543.30,105.13 544.18,101.48 544.70,99.20 C545.22,96.92 545.53,96.53 545.70,96.00" fill="none" stroke="#555555" stroke-width="1.15" stroke-linejoin="round"/>
</g>
<path d="M319.5,8.5 H545.5 V249.5 M319.5,8.5 V249.5 H545.5" fill="none" stroke="#808080" stroke-width="1"/>
<path d="M316.0,249.5 H319.5" stroke="#808080" stroke-width="1"/>
<path d="M316.0,209.5 H319.5" stroke="#808080" stroke-width="1"/>
<path d="M316.0,168.5 H319.5" stroke="#808080" stroke-width="1"/>
<path d="M316.0,128.5 H319.5" stroke="#808080" stroke-width="1"/>
<path d="M316.0,88.5 H319.5" stroke="#808080" stroke-width="1"/>
<path d="M316.0,48.5 H319.5" stroke="#808080" stroke-width="1"/>
<path d="M316.0,8.5 H319.5" stroke="#808080" stroke-width="1"/>
<path d="M319.5,249.5 V253.0" stroke="#808080" stroke-width="1"/>
<path d="M383.5,249.5 V253.0" stroke="#808080" stroke-width="1"/>
<path d="M448.5,249.5 V253.0" stroke="#808080" stroke-width="1"/>
<path d="M513.5,249.5 V253.0" stroke="#808080" stroke-width="1"/>
<text x="308.7" y="251.90" text-anchor="end">0</text>
<text x="308.7" y="211.72" text-anchor="end">0.2</text>
<text x="308.7" y="171.54" text-anchor="end">0.4</text>
<text x="308.7" y="131.36" text-anchor="end">0.6</text>
<text x="308.7" y="91.18" text-anchor="end">0.8</text>
<text x="308.7" y="51.00" text-anchor="end">1</text>
<text x="308.7" y="10.82" text-anchor="end">1.2</text>
<text x="319.20" y="267.2" text-anchor="middle">250</text>
<text x="383.90" y="267.2" text-anchor="middle">350</text>
<text x="448.60" y="267.2" text-anchor="middle">450</text>
<text x="513.30" y="267.2" text-anchor="middle">550</text>
<text x="320.8" y="21.2" text-anchor="start" textLength="12.4" lengthAdjust="spacingAndGlyphs" style="font-size:10.6px">(b)</text>
<text transform="translate(289.5,128.7) rotate(-90)" x="0" y="0" text-anchor="middle" textLength="114" lengthAdjust="spacingAndGlyphs">Normalized intensity [ - ]</text>
<text x="386.5" y="279.4" text-anchor="start" textLength="80" lengthAdjust="spacingAndGlyphs">Wavelength [nm]</text>
<path d="M427.1,25.1 H456.1" stroke="#555555" stroke-width="1.15"/>
<text x="459.0" y="28.4" text-anchor="start" textLength="31" lengthAdjust="spacingAndGlyphs">WFP_C</text>
<path d="M427.1,42.9 H456.1" stroke="#505050" stroke-width="1.2" stroke-dasharray="1.0 0.95"/>
<text x="459.0" y="46.2" text-anchor="start" textLength="37.3" lengthAdjust="spacingAndGlyphs">WFP_2h</text>
<path d="M427.1,60.1 H456.1" stroke="#555555" stroke-width="1.15" stroke-dasharray="3.4 1.2"/>
<text x="459.0" y="63.4" text-anchor="start" textLength="37.3" lengthAdjust="spacingAndGlyphs">WFP_4h</text>
<path d="M427.1,77.7 H456.1" stroke="#555555" stroke-width="1.15" stroke-dasharray="5 2.8"/>
<text x="459.0" y="81.0" text-anchor="start" textLength="37.3" lengthAdjust="spacingAndGlyphs">WFP_6h</text>
<path d="M427.1,94.9 H456.1" stroke="#555555" stroke-width="1.15" stroke-dasharray="4.6 3 1.7 3"/>
<text x="459.0" y="98.2" text-anchor="start" textLength="37.3" lengthAdjust="spacingAndGlyphs">WFP_8h</text>
</svg>
</body></html>
